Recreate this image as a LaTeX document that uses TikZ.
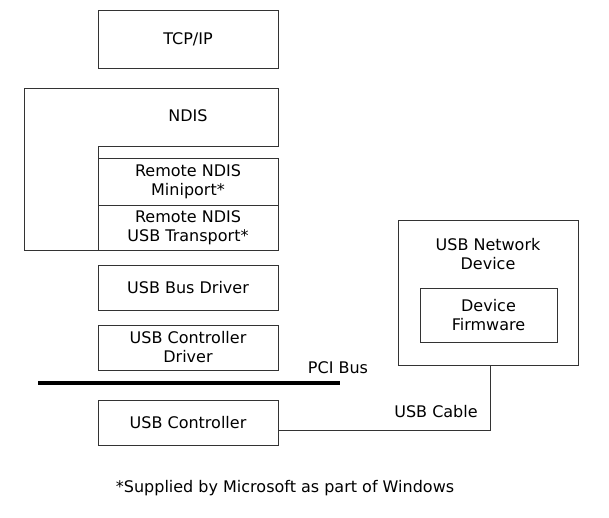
\documentclass[tikz,border=0pt]{standalone}
\usepackage{fontspec}
\setmainfont{DejaVu Sans}
\begin{document}
\begin{tikzpicture}[x=1pt,y=-1pt,
  box/.style={draw=black!80,line width=0.8pt,font=\fontsize{16}{19}\selectfont,align=center,inner sep=0pt},
  lbl/.style={font=\fontsize{16}{19}\selectfont,inner sep=0pt}]
\useasboundingbox (0,0) rectangle (609,517);
\node[box,minimum width=180,minimum height=58] (tcp) at (188,39) {TCP/IP};
\draw[draw=black!80,line width=0.8pt] (24,88) -- (278,88) -- (278,146) -- (98,146) -- (98,250) -- (24,250) -- cycle;
\node[lbl] (ndis) at (188,116) {NDIS};
\node[box,minimum width=180,minimum height=47] (mini) at (188,181.5) {Remote NDIS\\Miniport*};
\node[box,minimum width=180,minimum height=45] (trans) at (188,227.5) {Remote NDIS\\USB Transport*};
\node[box,minimum width=180,minimum height=45] (bus) at (188,287.5) {USB Bus Driver};
\node[box,minimum width=180,minimum height=45] (ctrld) at (188,347.5) {USB Controller\\Driver};
\coordinate (pa) at (38,383); \coordinate (pb) at (340,383);
\draw[line width=3.5pt] (pa) -- (pb);
\node[lbl] (pci) at (338,368) {PCI Bus};
\node[box,minimum width=180,minimum height=45] (ctrl) at (188,422.5) {USB Controller};
\node[box,minimum width=180,minimum height=145] (dev) at (488,292.5) {};
\node[lbl,align=center] (devl) at (488,254) {USB Network\\Device};
\node[box,minimum width=137,minimum height=54] (fw) at (488.5,315) {Device\\Firmware};
\coordinate (c1) at (490,430);
\draw[draw=black!80,line width=0.8pt] (ctrl.east |- c1) -- (c1) -- (dev.south -| c1);
\node[lbl] (cable) at (436,412) {USB Cable};
\node[lbl] (foot) at (285,488) {*Supplied by Microsoft as part of Windows};
\end{tikzpicture}
\end{document}
